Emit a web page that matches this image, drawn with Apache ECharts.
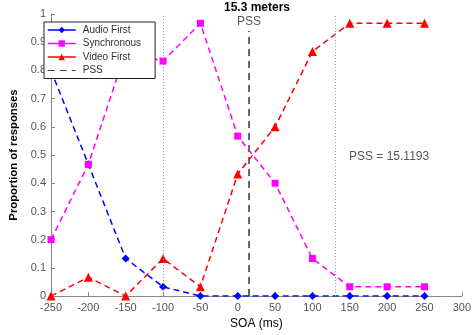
<!DOCTYPE html>
<html><head><meta charset="utf-8">
<script src="https://cdn.jsdelivr.net/npm/echarts@6/dist/echarts.min.js"></script>
<style>html,body{margin:0;padding:0;background:#fff}#c{width:474px;height:335px}</style>
</head><body><div id="c"></div>
<script>
const soa = [-250, -200, -150, -100, -50, 0, 50, 100, 150, 200, 250];
const audioFirst = [0.8, 0.467, 0.133, 0.033, 0, 0, 0, 0, 0, 0, 0];
const synchronous = [0.2, 0.467, 0.867, 0.833, 0.967, 0.567, 0.4, 0.133, 0.033, 0.033, 0.033];
const videoFirst = [0, 0.067, 0, 0.133, 0.033, 0.433, 0.6, 0.867, 0.967, 0.967, 0.967];
const pss = 15.1193;
const pssLineY = [0, 0.94];
const refLines = [-100, 130];
const titleText = '15.3 meters';
const pssText = 'PSS = 15.1193';

const pair = arr => soa.map((x, i) => [x, arr[i]]);
const font = 'Liberation Sans, Arial, sans-serif';
const chart = echarts.init(document.getElementById('c'));
chart.setOption({
  animation: false,
  textStyle: {fontFamily: font},
  title: {text: titleText, left: 219, top: -3, textStyle: {fontSize: 12, fontWeight: 'bold', color: '#000', fontFamily: font}},
  grid: {left: 36, right: 7, top: 14, bottom: 33},
  legend: {
    orient: 'vertical', left: 44, top: 22, backgroundColor: '#fff', z: 20,
    borderColor: '#222', borderWidth: 1, borderRadius: 0, padding: [3, 14, 3, 3],
    itemGap: 3.5, itemWidth: 28, itemHeight: 8,
    lineStyle: {type: 'solid', width: 1.5},
    textStyle: {fontSize: 10, color: '#333', fontFamily: font, padding: [0, 0, 0, 2]},
    data: ['Audio First', 'Synchronous', 'Video First',
      {name: 'PSS', itemStyle: {opacity: 0}, lineStyle: {type: [7, 5], width: 1.2, color: '#444'}}]
  },
  xAxis: {
    type: 'value', min: -250, max: 300, interval: 50,
    name: 'SOA (ms)', nameLocation: 'middle', nameGap: 20,
    nameTextStyle: {color: '#000', fontSize: 12, fontFamily: font},
    axisLine: {lineStyle: {color: '#888'}},
    axisTick: {inside: true, length: 4, lineStyle: {color: '#888'}},
    axisLabel: {color: '#555', fontSize: 11, margin: 6, fontFamily: font},
    splitLine: {show: false}
  },
  yAxis: {
    type: 'value', min: 0, max: 1, interval: 0.1,
    name: 'Proportion of responses', nameLocation: 'middle', nameGap: 32,
    nameTextStyle: {color: '#000', fontSize: 11.3, fontWeight: 'bold', fontFamily: font},
    axisLine: {show: true, onZero: false, lineStyle: {color: '#888'}},
    axisTick: {show: true, inside: true, length: 4, lineStyle: {color: '#888'}},
    axisLabel: {color: '#555', fontSize: 11, margin: 5, fontFamily: font,
      formatter: v => String(Math.round(v * 10) / 10)},
    splitLine: {show: false}
  },
  graphic: [{type: 'text', left: 349, top: 151, style: {text: pssText, fill: '#555', font: '12px ' + font}}],
  series: [
    {name: 'Audio First', type: 'line', data: pair(audioFirst), color: '#0000ff',
     symbol: 'diamond', symbolSize: 8, lineStyle: {width: 1.5, type: [6, 4]},
     z: 3,
     markLine: {silent: true, symbol: 'none', label: {show: false},
       lineStyle: {color: '#999', type: [1, 2], width: 1},
       data: refLines.map(v => ({xAxis: v}))}},
    {name: 'Synchronous', type: 'line', data: pair(synchronous), color: '#ff00ff',
     symbol: 'rect', symbolSize: 7, lineStyle: {width: 1.5, type: [6, 4]}, z: 4},
    {name: 'Video First', type: 'line', data: pair(videoFirst), color: '#ff0000',
     symbol: 'triangle', symbolSize: 9, lineStyle: {width: 1.5, type: [6, 4]}, z: 2},
    {name: 'PSS', type: 'line', data: pssLineY.map(y => [pss, y]), color: '#333',
     symbol: 'none', lineStyle: {width: 1.5, type: [7, 5], color: '#333'}, z: 1,
     label: {show: false},
     markPoint: {symbol: 'circle', symbolSize: 0,
       data: [{coord: [pss, pssLineY[1]]}],
       label: {show: true, position: 'top', distance: 3, formatter: 'PSS', color: '#555', fontSize: 12, fontFamily: font}}}
  ]
});
</script></body></html>
